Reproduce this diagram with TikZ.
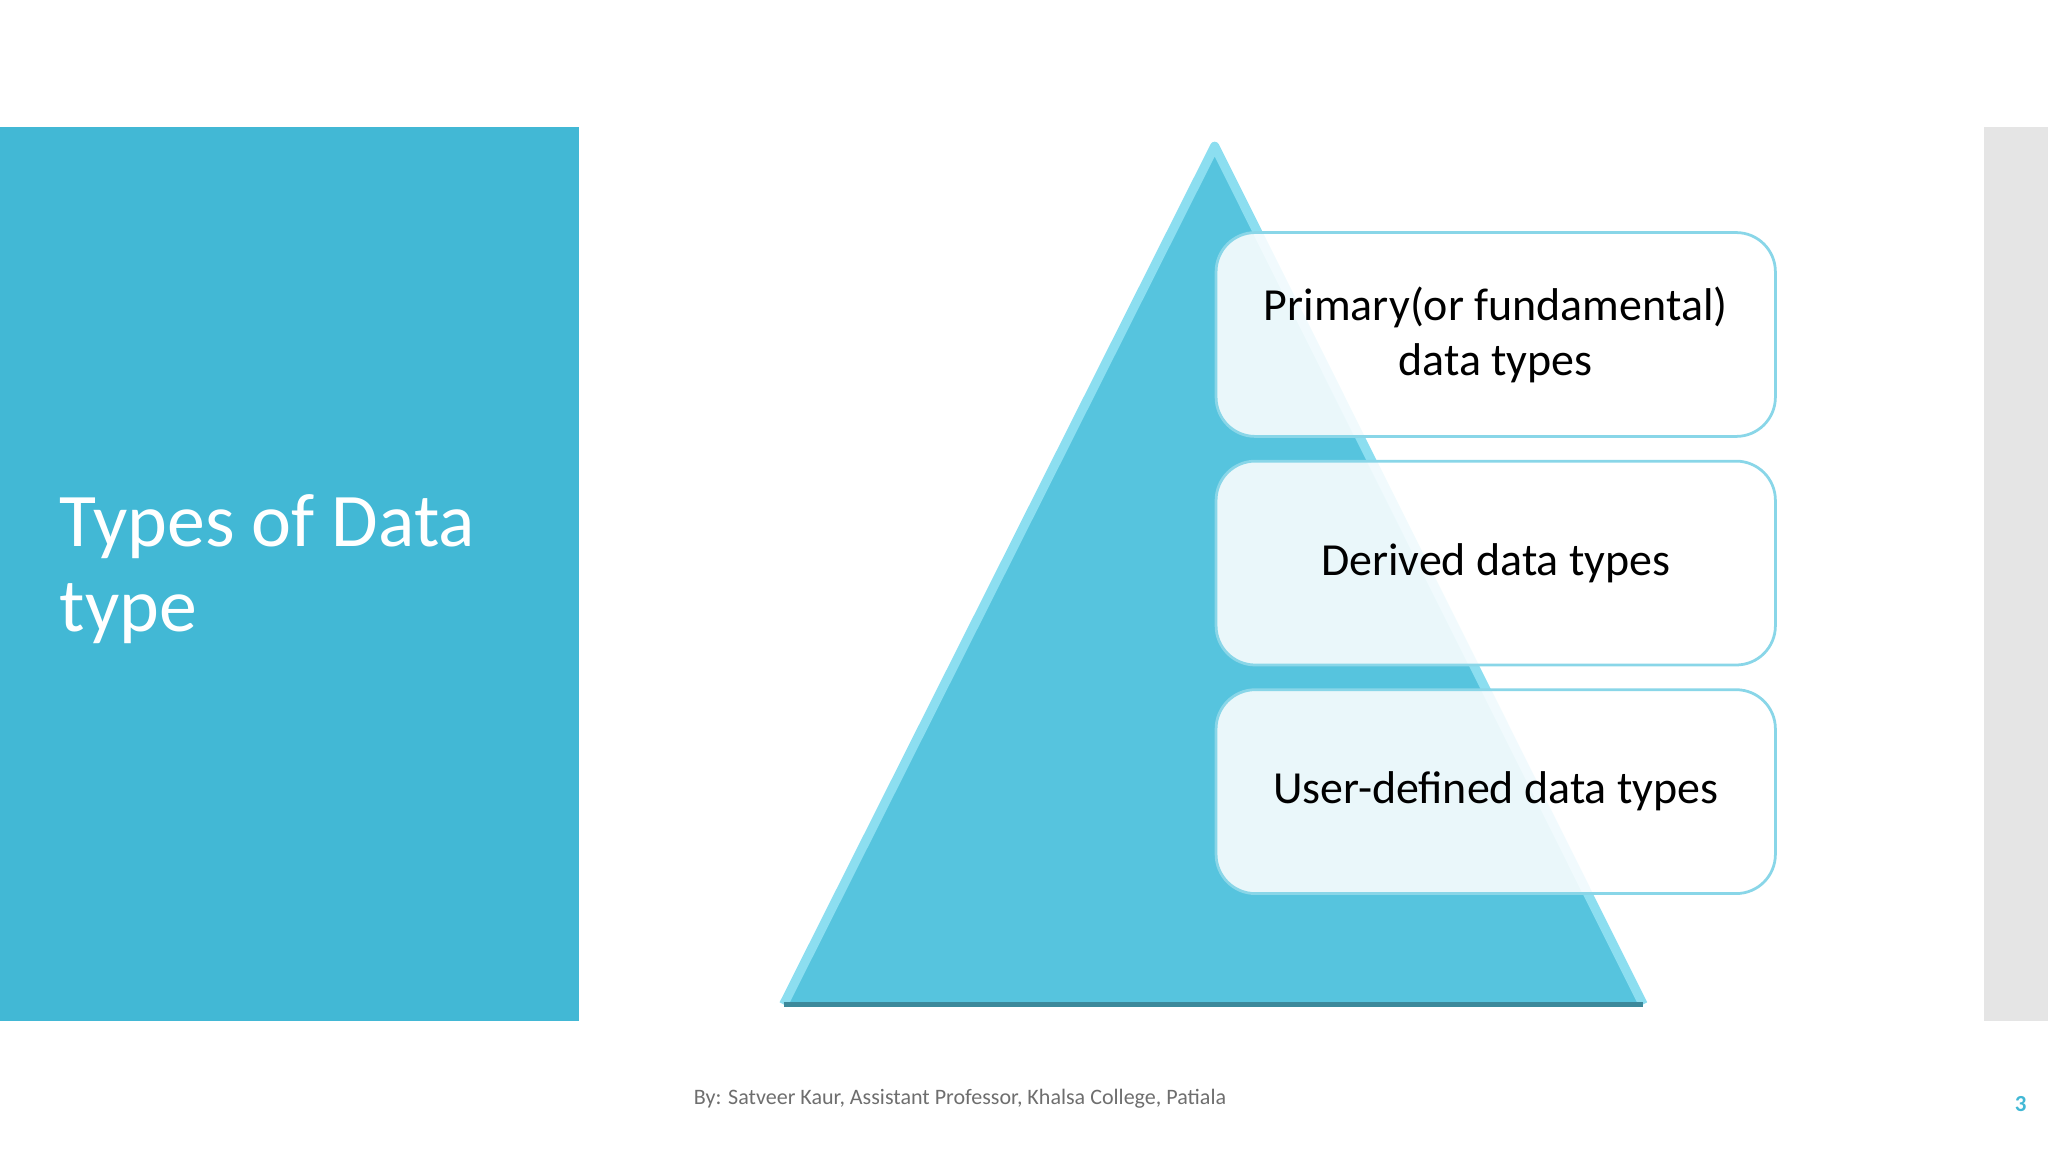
\documentclass[tikz,border=0pt]{standalone}
\usepackage{fontspec}
\setmainfont{Carlito}
\usepackage{xcolor}
\definecolor{panelblue}{RGB}{66,184,213}
\definecolor{pyrblue}{RGB}{86,196,222}
\definecolor{pyredge}{RGB}{140,222,240}
\definecolor{stripgrey}{RGB}{229,229,229}
\definecolor{footgrey}{RGB}{110,110,110}
\begin{document}
\begin{tikzpicture}[x=0.01cm,y=0.01cm,yscale=-1,
  levelbox/.style={draw=pyrblue!70,line width=0.6pt,rounded corners=0.3cm,fill=white,fill opacity=0.88,text opacity=1,
    minimum width=4.28cm,minimum height=1.56cm,align=center,font=\fontsize{10}{12}\selectfont,anchor=north west}]
\useasboundingbox (0,0) rectangle (1568,882);
% panels
\fill[panelblue] (0,97) rectangle (443,782);
\fill[stripgrey] (1519,97) rectangle (1568,782);
% pyramid
\fill[pyrblue] (930,112) -- (1258,769) -- (600,769) -- cycle;
\draw[pyredge,line width=2pt,line join=round] (600,769) -- (930,112) -- (1258,769);
\draw[pyrblue!70!black,line width=1pt] (600,769) -- (1258,769);
% levels
\node[levelbox] (primary) at (930,177) {Primary(or fundamental)\\data types};
\node[levelbox] (derived) at (930,352) {Derived data types};
\node[levelbox] (user) at (930,527) {User-defined data types};
% texts
\node[anchor=north west,inner sep=0pt,align=left,text=white,font=\fontsize{16.5}{18.5}\selectfont] (title) at (45,378) {Types of Data\\type};
\node[text=footgrey,font=\fontsize{4.8}{6}\selectfont] (footer) at (735,841) {By: Satveer Kaur, Assistant Professor, Khalsa College, Patiala};
\node[text=panelblue,font=\bfseries\fontsize{5}{6}\selectfont] (page) at (1547,845) {3};
\end{tikzpicture}
\end{document}
